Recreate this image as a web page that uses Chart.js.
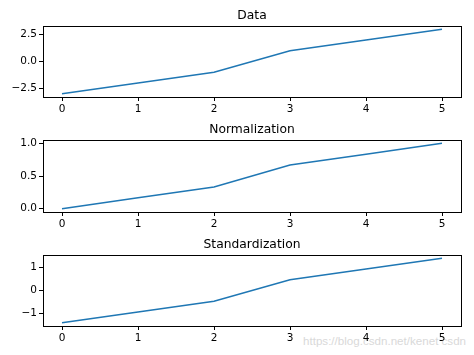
<!DOCTYPE html>
<html>
<head>
<meta charset="utf-8">
<script src="https://cdn.jsdelivr.net/npm/chart.js@4.4.1/dist/chart.umd.min.js"></script>
<style>
  html, body { margin: 0; padding: 0; background: #fff; }
  #wrap { position: relative; width: 474px; height: 355px; overflow: hidden; }
  canvas { position: absolute; left: 0; z-index: 1; }
  #wm { position: absolute; left: 303px; top: 334px; font-family: "Liberation Sans", sans-serif; font-size: 11.6px; color: #d9d9d9; white-space: nowrap; z-index: 0; }
</style>
</head>
<body>
<div id="wrap">
  <div id="wm">https://blog.csdn.net/kenet csdn</div>
  <canvas id="c1" width="474" height="119" style="top:0px"></canvas>
  <canvas id="c2" width="474" height="119" style="top:115px"></canvas>
  <canvas id="c3" width="474" height="118" style="top:230px"></canvas>
</div>
<script>
// ---- data ----
const xValues = [0, 1, 2, 3, 4, 5];
const dataValues = [-3, -2, -1, 1, 2, 3];
const normValues = [0.0, 0.167, 0.333, 0.667, 0.833, 1.0];
const stdValues = [-1.389, -0.926, -0.463, 0.463, 0.926, 1.389];
const titles = ["Data", "Normalization", "Standardization"];
const xTicks = [0, 1, 2, 3, 4, 5];
const yTicksData = [-2.5, 0.0, 2.5];
const yTicksNorm = [0.0, 0.5, 1.0];
const yTicksStd = [-1, 0, 1];

const FONT = '"DejaVu Sans", sans-serif';
const LINE = '#1f77b4';

const framePlugin = {
  id: 'frame',
  afterDraw(chart, args, opts) {
    const a = chart.chartArea, ctx = chart.ctx;
    ctx.save();
    ctx.strokeStyle = '#000';
    ctx.lineWidth = 1;
    ctx.strokeRect(Math.round(a.left) + 0.5, Math.round(a.top) + 0.5,
                   Math.round(a.right - a.left), Math.round(a.bottom - a.top));
    ctx.fillStyle = '#000';
    ctx.font = '12.3px ' + FONT;
    ctx.textAlign = 'center';
    ctx.textBaseline = 'bottom';
    ctx.fillText(opts.text, (a.left + a.right) / 2, a.top - 4);
    ctx.restore();
  }
};

function fmt(v, dec) {
  const s = dec > 0 ? Math.abs(v).toFixed(dec) : String(Math.abs(v));
  return (v < 0 ? '\u2212' : '') + s;
}

function makeChart(id, values, title, yTicks, ymin, ymax, dec, topPad) {
  const pts = xValues.map((x, i) => ({ x: x, y: values[i] }));
  return new Chart(document.getElementById(id), {
    type: 'line',
    data: { datasets: [{ data: pts, borderColor: LINE, borderWidth: 1.5, pointRadius: 0, fill: false, tension: 0 }] },
    options: {
      responsive: false,
      animation: false,
      events: [],
      layout: { padding: { left: 0, right: 13, top: topPad, bottom: 0 } },
      plugins: { legend: { display: false }, tooltip: { enabled: false }, title: { display: false }, frame: { text: title } },
      scales: {
        x: {
          type: 'linear', min: -0.25, max: 5.25,
          afterBuildTicks: s => { s.ticks = xTicks.map(v => ({ value: v })); },
          afterFit: s => { s.height = 22; },
          grid: { display: true, drawOnChartArea: false, tickLength: 4, color: '#000', tickWidth: 1 },
          border: { display: true, color: '#000' },
          ticks: { color: '#000', font: { family: FONT, size: 10.5 }, padding: 2, maxRotation: 0, callback: v => String(v) }
        },
        y: {
          type: 'linear', min: ymin, max: ymax,
          afterBuildTicks: s => { s.ticks = yTicks.map(v => ({ value: v })); },
          afterFit: s => { s.width = 43; },
          grid: { display: true, drawOnChartArea: false, tickLength: 4, color: '#000', tickWidth: 1 },
          border: { display: true, color: '#000' },
          ticks: { color: '#000', font: { family: FONT, size: 10.5 }, padding: 2, callback: v => fmt(v, dec) }
        }
      }
    },
    plugins: [framePlugin]
  });
}

makeChart('c1', dataValues, titles[0], yTicksData, -3.3, 3.3, 1, 26);
makeChart('c2', normValues, titles[1], yTicksNorm, -0.05, 1.05, 1, 25);
makeChart('c3', stdValues, titles[2], yTicksStd, -1.528, 1.528, 0, 25);
</script>
</body>
</html>
